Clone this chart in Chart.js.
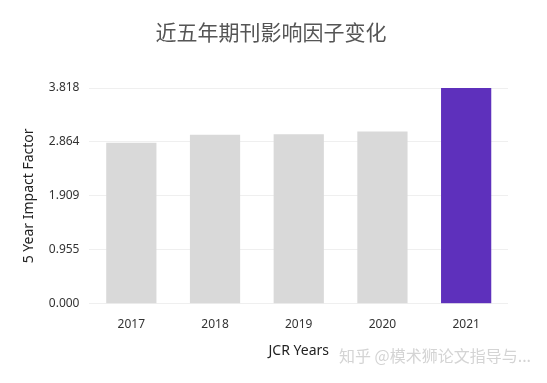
<!DOCTYPE html>
<html>
<head>
<meta charset="utf-8">
<script src="https://cdn.jsdelivr.net/npm/chart.js@4/dist/chart.umd.min.js"></script>
<style>
    html, body { margin: 0; padding: 0; background: #fff; }
    #wrap { position: relative; width: 547px; height: 383px; }
    #title {
        position: absolute; left: 0; width: 542px; top: 16px; text-align: center;
        font: 21px "Noto Sans CJK SC", sans-serif; color: #555;
        white-space: nowrap;
    }
    #watermark {
        position: absolute; left: 339px; top: 343px;
        font: 16px "Noto Sans CJK SC", sans-serif; color: #d4d4d4;
        white-space: nowrap;
    }
</style>
</head>
<body>
<div id="wrap">
    <canvas id="chart" width="547" height="383"></canvas>
    <div id="title">近五年期刊影响因子变化</div>
    <div id="watermark">知乎 @模术狮论文指导与...</div>
</div>
<script>
// ---- data ----
const years = ['2017', '2018', '2019', '2020', '2021'];
const impactFactor = [2.85, 2.99, 3.00, 3.05, 3.818];
const yTicks = [0, 0.955, 1.909, 2.864, 3.818];

const GRAY = '#d9d9d9';
const PURPLE = '#5e30bc';
const barColors = years.map((y, i) => i === years.length - 1 ? PURPLE : GRAY);

const ctx = document.getElementById('chart').getContext('2d');
new Chart(ctx, {
    type: 'bar',
    data: {
        labels: years,
        datasets: [{
            data: impactFactor,
            backgroundColor: barColors,
            barPercentage: 0.6,
            categoryPercentage: 1.0
        }]
    },
    options: {
        responsive: false,
        animation: false,
        layout: { padding: { left: 21, right: 39, top: 88, bottom: 20 } },
        plugins: {
            legend: { display: false },
            tooltip: { enabled: false },
            title: { display: false }
        },
        scales: {
            x: {
                grid: { display: false },
                border: { display: false },
                ticks: { color: '#333', font: { family: '"Noto Sans", sans-serif', size: 12 }, padding: 6 },
                title: {
                    display: true, text: 'JCR Years', color: '#222',
                    font: { family: '"Noto Sans", sans-serif', size: 14 },
                    padding: { top: 4 }
                }
            },
            y: {
                min: 0,
                max: yTicks[yTicks.length - 1],
                afterBuildTicks: axis => { axis.ticks = yTicks.map(v => ({ value: v })); },
                grid: { color: '#efefef', drawTicks: false },
                border: { display: false },
                ticks: {
                    color: '#333', padding: 10,
                    font: { family: '"Noto Sans", sans-serif', size: 12 },
                    callback: v => Number(v).toFixed(3)
                },
                title: {
                    display: true, text: '5 Year Impact Factor', color: '#222',
                    font: { family: '"Noto Sans", sans-serif', size: 14 },
                    padding: { top: 0, bottom: 1 }
                }
            }
        }
    }
});
</script>
</body>
</html>
